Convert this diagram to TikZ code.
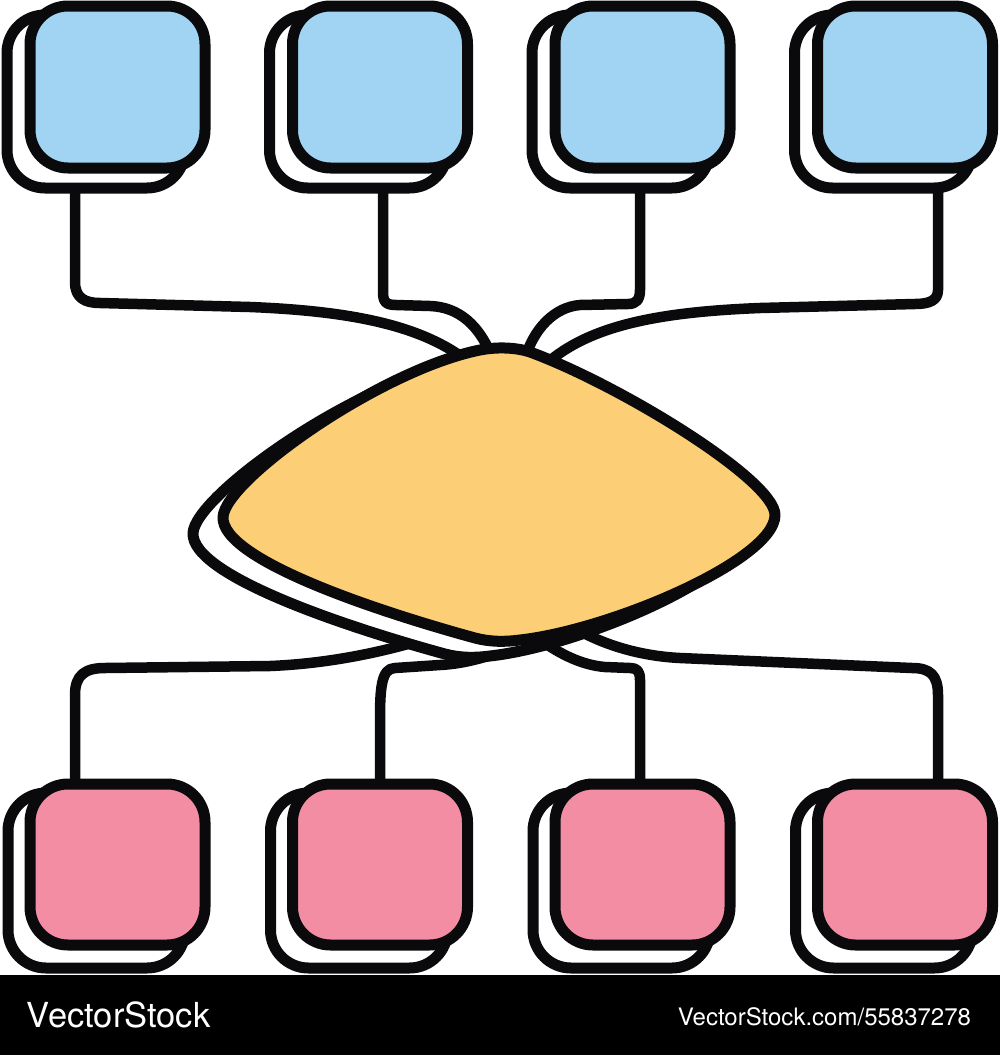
\documentclass[tikz,border=0pt]{standalone}
\usepackage{fontspec}
\setmainfont{TeX Gyre Heros}
\usetikzlibrary{calc}
\definecolor{boxblue}{RGB}{160,212,242}
\definecolor{boxpink}{RGB}{242,141,163}
\definecolor{dyellow}{RGB}{252,206,118}
\definecolor{ink}{RGB}{10,10,12}
\begin{document}
\begin{tikzpicture}[x=1pt,y=-1pt,
  conn/.style={draw=ink, line width=10.5pt, line cap=round, line join=round},
  boxbase/.style={draw=ink, line width=11pt, rounded corners=38pt, outer sep=0pt, inner sep=0pt},
  backtop/.style={boxbase, fill=white, minimum width=178pt, minimum height=173pt},
  fronttop/.style={boxbase, fill=boxblue, minimum width=175pt, minimum height=162pt},
  backbot/.style={boxbase, fill=white, minimum width=177pt, minimum height=175pt},
  frontbot/.style={boxbase, fill=boxpink, minimum width=175pt, minimum height=161pt},
  dmd/.style={draw=ink, line width=11pt, line join=round},
  wm/.style={text=white, inner sep=0pt, outer sep=0pt}]
\useasboundingbox (0,0) rectangle (1000,1055);

% box node positions (defined invisibly first for connector anchors)
\foreach \i/\dx in {1/0,2/262.5,3/525,4/787.5}{
  \path (96+\dx,101.5) node[backtop, draw=none, fill=none] (tb\i) {};
  \path (96.5+\dx,880.5) node[backbot, draw=none, fill=none] (bb\i) {};
  \path (117.5+\dx,87) node[fronttop, draw=none, fill=none] (tf\i) {};
  \path (117.5+\dx,864.5) node[frontbot, draw=none, fill=none] (bf\i) {};
}

% connector end points
\coordinate (s1) at ([xshift=-21pt]tb1.south);
\coordinate (s2) at ([xshift=24.5pt]tb2.south);
\coordinate (s3) at ([xshift=19pt]tb3.south);
\coordinate (s4) at ([xshift=54.5pt]tb4.south);
\coordinate (e1) at ([xshift=-42.5pt]bf1.north);
\coordinate (e2) at ([xshift=0pt]bf2.north);
\coordinate (e3) at ([xshift=-2.5pt]bf3.north);
\coordinate (e4) at ([xshift=33pt]bf4.north);
\coordinate (d1) at (466,360);
\coordinate (d2) at (494,362);
\coordinate (d3) at (524,362);
\coordinate (d4) at (546,364);
\coordinate (g1) at (415,642);
\coordinate (g2) at (505,650);
\coordinate (g3) at (535,636);
\coordinate (g4) at (578,630);

% top connectors
\draw[conn] (s1) -- (75,282) .. controls (75,298) and (85,303) .. (100,303) -- (250,307) .. controls (350,311) and (420,325) .. (d1);
\draw[conn] (s2) -- (383,292) .. controls (383,302) and (386,305) .. (396,305) -- (430,306) .. controls (458,307) and (480,324) .. (d2);
\draw[conn] (s3) -- (640,290) .. controls (640,300) and (636,304) .. (628,304) -- (580,305) .. controls (555,307) and (533,328) .. (d3);
\draw[conn] (s4) -- (938,290) .. controls (938,300) and (930,304) .. (915,304) -- (760,308) .. controls (660,312) and (590,325) .. (d4);

% bottom connectors
\draw[conn] (e1) -- (75,695) .. controls (75,675) and (85,668) .. (105,668) -- (270,666) .. controls (320,664) and (370,655) .. (g1);
\draw[conn] (e2) -- (380,720) .. controls (380,690) and (381,668) .. (395,668) -- (440,665) .. controls (460,664) and (482,659) .. (g2);
\draw[conn] (e3) -- (640,680) .. controls (640,671) and (637,668) .. (630,668) -- (605,667) .. controls (580,665) and (556,652) .. (g3);
\draw[conn] (e4) -- (938,695) .. controls (938,675) and (930,668) .. (912,668) -- (680,658) .. controls (640,656) and (605,645) .. (g4);

% back lozenge
\begin{scope}[shift={(-30,16)}]
\draw[dmd, fill=white] (223,517) .. controls (225,480) and (380,370) .. (480,350) .. controls (495,347) and (515,347) .. (530,352) .. controls (620,385) and (775,480) .. (775,515) .. controls (775,560) and (610,630) .. (520,640) .. controls (505,642) and (490,642) .. (475,638) .. controls (380,612) and (221,560) .. (223,517) -- cycle;
\end{scope}
% front lozenge
\draw[dmd, fill=dyellow] (223,517) .. controls (225,480) and (380,370) .. (480,350) .. controls (495,347) and (515,347) .. (530,352) .. controls (620,385) and (775,480) .. (775,515) .. controls (775,560) and (610,630) .. (520,640) .. controls (505,642) and (490,642) .. (475,638) .. controls (380,612) and (221,560) .. (223,517) -- cycle;

% boxes
\foreach \i/\dx in {1/0,2/262.5,3/525,4/787.5}{
  \node[backtop] (tbv\i) at (96+\dx,101.5) {};
  \node[fronttop] (tfv\i) at (117.5+\dx,87) {};
  \node[backbot] (bbv\i) at (96.5+\dx,880.5) {};
  \node[frontbot] (bfv\i) at (117.5+\dx,864.5) {};
}

% watermark bar
\fill[black] (0,975) rectangle (1000,1055);
\node[wm, anchor=base west, font=\fontsize{34.5}{34.5}\selectfont] (wm1) at (27,1027) {VectorStock};
\node[wm, anchor=base east, font=\fontsize{24}{24}\selectfont] (wm2) at (971,1025) {VectorStock.com/55837278};
\end{tikzpicture}
\end{document}
